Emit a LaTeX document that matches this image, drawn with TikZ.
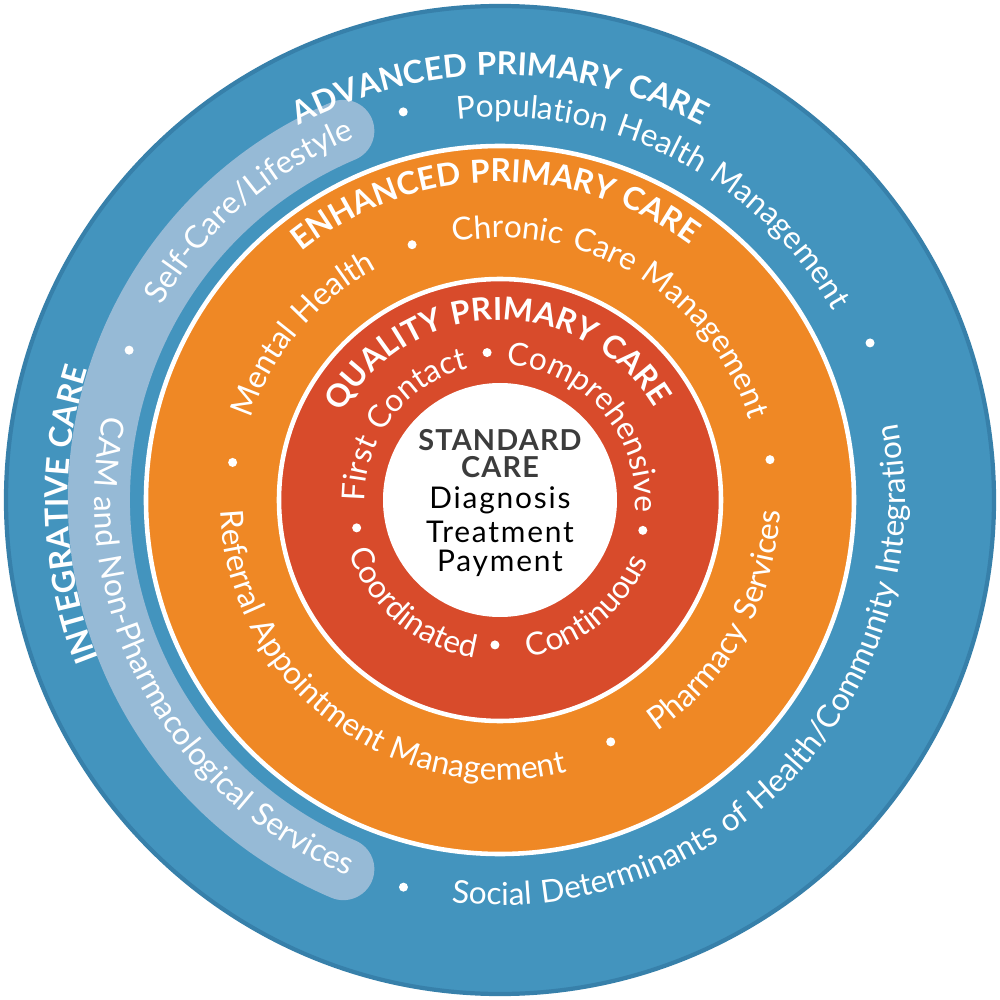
\documentclass[tikz,border=0pt]{standalone}
\usepackage{fontspec}
\setmainfont{Lato}
\newfontfamily\hfont{Lato}[LetterSpace=4]
\newfontfamily\lfont{Lato}[LetterSpace=6]
\usetikzlibrary{decorations.text}
\definecolor{cblue}{RGB}{67,148,190}
\definecolor{cblued}{RGB}{55,128,170}
\definecolor{cband}{RGB}{150,186,214}
\definecolor{corange}{RGB}{239,136,37}
\definecolor{cred}{RGB}{216,75,43}
\definecolor{cgray}{RGB}{60,60,60}
\newcommand\Hd{\hfont\bfseries\fontsize{9}{9}\selectfont}
\newcommand\Lb{\lfont\fontsize{9}{9}\selectfont}
% clockwise arc text: radius, centre angle, text
\newcommand\cwtext[3]{\path[decorate,decoration={text along path,text align=center,text color=white,text={#3}}] ({#2+100}:#1) arc[start angle={#2+100}, end angle={#2-100}, radius=#1];}
\newcommand\ccwtext[3]{\path[decorate,decoration={text along path,text align=center,text color=white,text={#3}}] ({#2-100}:#1) arc[start angle={#2-100}, end angle={#2+100}, radius=#1];}
\tikzset{dot/.style={fill=white,circle,inner sep=0pt,minimum size=0.09cm}}
\begin{document}
\begin{tikzpicture}[x=0.01cm,y=0.01cm]
\useasboundingbox (-500,-500) rectangle (500,500);
\fill[cblue,draw=cblued,line width=1.2pt] (0,0) circle[radius=494];
\draw[cband,line width=0.62cm,line cap=round] (113:401) arc[start angle=113,end angle=247,radius=401];
\fill[corange,draw=white,line width=1.3pt] (0,0) circle[radius=354];
\fill[cred,draw=white,line width=1.3pt] (0,0) circle[radius=221];
\fill[white] (0,0) circle[radius=117];
% outer ring
\cwtext{425}{90}{|\Hd|ADVANCED PRIMARY CARE}
\cwtext{432}{182}{|\Hd|INTEGRATIVE CARE}
\cwtext{383}{63}{|\Lb|Population Health Management}
\ccwtext{405}{317}{|\Lb|Social Determinants of Health/Community Integration}
\cwtext{390}{131}{|\Lb|Self-Care/Lifestyle}
\ccwtext{405}{208}{|\Lb|CAM and Non-Pharmacological Services}
\node[dot] (d1) at (104:400) {};
\node[dot] (d2) at (23:402) {};
\node[dot] (d3) at (256:399) {};
\node[dot] (d4) at (158:400) {};
% orange ring
\cwtext{318}{91}{|\Hd|ENHANCED PRIMARY CARE}
\cwtext{262}{59}{|\Lb|Chronic Care Management}
\cwtext{262}{140}{|\Lb|Mental Health}
\ccwtext{280}{233}{|\Lb|Referral Appointment Management}
\ccwtext{280}{331}{|\Lb|Pharmacy Services}
\node[dot] (e1) at (109:270) {};
\node[dot] (e2) at (172:270) {};
\node[dot] (e3) at (8.5:273) {};
\node[dot] (e4) at (294.6:266) {};
% red ring
\cwtext{180}{91}{|\Hd|QUALITY PRIMARY CARE}
\cwtext{135}{142}{|\Lb|First Contact}
\cwtext{135}{41}{|\Lb|Comprehensive}
\ccwtext{160}{230}{|\Lb|Coordinated}
\ccwtext{160}{309}{|\Lb|Continuous}
\node[dot] (q1) at (95:148) {};
\node[dot] (q2) at (348:146) {};
\node[dot] (q3) at (191:146) {};
\node[dot] (q4) at (268:145) {};
% centre
\node[text=cgray,font=\hfont\bfseries\fontsize{8.2}{8.2}\selectfont] (s1) at (0,60) {STANDARD};
\node[text=cgray,font=\hfont\bfseries\fontsize{8.2}{8.2}\selectfont] (s2) at (0,33) {CARE};
\node[text=black,font=\lfont\fontsize{8.5}{8.5}\selectfont] (s3) at (0,0) {Diagnosis};
\node[text=black,font=\lfont\fontsize{8.5}{8.5}\selectfont] (s4) at (0,-32) {Treatment};
\node[text=black,font=\lfont\fontsize{8.5}{8.5}\selectfont] (s5) at (0,-63) {Payment};
\end{tikzpicture}
\end{document}
